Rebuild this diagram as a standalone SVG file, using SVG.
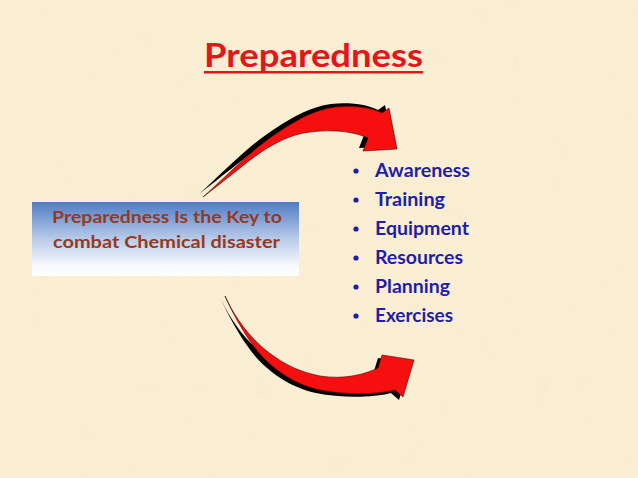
<svg xmlns="http://www.w3.org/2000/svg" width="638" height="478" viewBox="0 0 638 478">
  <style>
    .title{font-family:Lato,"Open Sans","Liberation Sans",sans-serif;font-weight:bold;font-size:33px;fill:#e3161b}
    .box{font-family:Lato,"Open Sans","Liberation Sans",sans-serif;font-weight:bold;font-size:17px;fill:#953a1e}
    .item{font-family:Lato,"Open Sans","Liberation Sans",sans-serif;font-weight:bold;font-size:19px;fill:#1e1ea8}
    .shadow{fill:#000}
    .arrow{fill:#f50f0f;stroke:#4a0000;stroke-width:0.6;stroke-linejoin:miter}
  </style>
  <defs>
    <linearGradient id="boxGrad" x1="0" y1="0" x2="0" y2="1">
      <stop offset="0" stop-color="#4f7cc4"/>
      <stop offset="0.5" stop-color="#b8cbe8"/>
      <stop offset="0.85" stop-color="#f6f8fc"/>
      <stop offset="1" stop-color="#ffffff"/>
    </linearGradient>
    <filter id="paper" x="0" y="0" width="100%" height="100%">
      <feTurbulence type="fractalNoise" baseFrequency="0.04" numOctaves="3" seed="4" result="n"/>
      <feColorMatrix in="n" type="matrix" values="0 0 0 0 0.88  0 0 0 0 0.74  0 0 0 0 0.5  0 0 0 0.6 -0.2"/>
    </filter>
  </defs>
  <rect width="638" height="478" fill="#faefd5"/>
  <rect width="638" height="478" filter="url(#paper)" opacity="0.55"/>

  <g id="title">
    <text class="title" x="313.5" y="67" text-anchor="middle" textLength="219" lengthAdjust="spacingAndGlyphs">Preparedness</text>
    <rect x="204" y="71" width="219" height="2.5" fill="#e3161b"/>
  </g>

  <g id="connectors">
    <g id="arrow-top">
      <path class="shadow" transform="translate(-4,-3)" d="M203,197 C225,178 250,150 280,131 C300,118 315,110 335,107 C355,105 372,108 382,113 L389,108 L397,149 L363,151 L368,138 C355,132 335,129 310,132 C285,135 262,150 240,168 C225,180 212,190 203,197 Z"/>
      <path class="arrow" d="M203,197 C225,178 250,150 280,131 C300,118 315,110 335,107 C355,105 372,108 382,113 L389,108 L397,149 L363,151 L368,138 C355,132 335,129 310,132 C285,135 262,150 240,168 C225,180 212,190 203,197 Z"/>
    </g>
    <g id="arrow-bottom">
      <path class="shadow" transform="translate(-4,3)" d="M225,296 C235,318 250,338 268,352 C285,365 300,372 320,376 C345,380 365,374 378,368 L382,355 L414,360 L403,397 L395,390 C375,395 345,395 320,390 C295,385 270,368 255,348 C243,332 232,312 225,296 Z"/>
      <path class="arrow" d="M225,296 C235,318 250,338 268,352 C285,365 300,372 320,376 C345,380 365,374 378,368 L382,355 L414,360 L403,397 L395,390 C375,395 345,395 320,390 C295,385 270,368 255,348 C243,332 232,312 225,296 Z"/>
    </g>
  </g>

  <g id="key-box">
    <rect x="32" y="202" width="267" height="74" fill="url(#boxGrad)"/>
    <text class="box" x="167" y="223" text-anchor="middle" textLength="230" lengthAdjust="spacingAndGlyphs">Preparedness Is the Key to</text>
    <text class="box" x="166.5" y="248" text-anchor="middle" textLength="227" lengthAdjust="spacingAndGlyphs">combat Chemical disaster</text>
  </g>

  <g id="list">
    <circle cx="356" cy="171" r="2.6" fill="#1e1ea8"/>
    <text class="item" x="375" y="177" textLength="95" lengthAdjust="spacingAndGlyphs">Awareness</text>
    <circle cx="356" cy="200" r="2.6" fill="#1e1ea8"/>
    <text class="item" x="375" y="206" textLength="70" lengthAdjust="spacingAndGlyphs">Training</text>
    <circle cx="356" cy="229" r="2.6" fill="#1e1ea8"/>
    <text class="item" x="375" y="235" textLength="94" lengthAdjust="spacingAndGlyphs">Equipment</text>
    <circle cx="356" cy="258" r="2.6" fill="#1e1ea8"/>
    <text class="item" x="375" y="264" textLength="88" lengthAdjust="spacingAndGlyphs">Resources</text>
    <circle cx="356" cy="287" r="2.6" fill="#1e1ea8"/>
    <text class="item" x="375" y="293" textLength="75" lengthAdjust="spacingAndGlyphs">Planning</text>
    <circle cx="356" cy="316" r="2.6" fill="#1e1ea8"/>
    <text class="item" x="375" y="322" textLength="78" lengthAdjust="spacingAndGlyphs">Exercises</text>
  </g>
</svg>
